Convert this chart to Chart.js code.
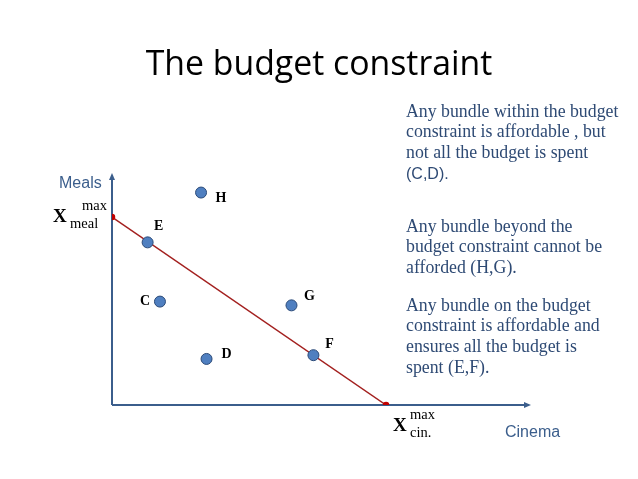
<!DOCTYPE html>
<html>
<head>
<meta charset="utf-8">
<script src="https://cdn.jsdelivr.net/npm/chart.js@4"></script>
<style>
html,body{margin:0;padding:0;background:#fff;}
#wrap{width:638px;height:479px;}
</style>
</head>
<body>
<div id="wrap"><canvas id="c" width="638" height="479"></canvas></div>
<script>
const bundleLabels = ['H','E','C','G','D','F'];
const cinemaValues = [3.25, 1.3, 1.75, 6.55, 3.45, 7.35];
const mealValues   = [11.3, 8.65, 5.5, 5.3, 2.45, 2.65];
const budgetCinema = [0, 10];
const budgetMeals  = [10, 0];
const axisMax = {x: 15.29, y: 12.34};

const titleText = 'The budget constraint';
const noteBlocks = [
  ['Any bundle within the budget','constraint is affordable , but','not all the budget is spent','(C,D).'],
  ['Any bundle beyond the','budget constraint cannot be','afforded (H,G).'],
  ['Any bundle on the budget','constraint is affordable and','ensures all the budget is','spent (E,F).']
];

const labelOffsets = {H:[20,6],E:[11,-16],C:[-15,0],G:[18,-9],D:[20,-5],F:[16,-11]};

const decor = {
  id:'decor',
  beforeDatasetsDraw(chart){
    const ctx = chart.ctx, xs = chart.scales.x, ys = chart.scales.y;
    const x0 = xs.getPixelForValue(0), y0 = ys.getPixelForValue(0);
    const x1 = xs.getPixelForValue(axisMax.x), y1 = ys.getPixelForValue(axisMax.y);
    ctx.save();
    ctx.strokeStyle = '#3b5e8c'; ctx.fillStyle = '#3b5e8c'; ctx.lineWidth = 2;
    ctx.beginPath(); ctx.moveTo(x0, y0); ctx.lineTo(x1-4, y0); ctx.stroke();
    ctx.beginPath(); ctx.moveTo(x0, y0); ctx.lineTo(x0, y1+4); ctx.stroke();
    ctx.beginPath(); ctx.moveTo(x1, y0); ctx.lineTo(x1-7, y0-3); ctx.lineTo(x1-7, y0+3); ctx.closePath(); ctx.fill();
    ctx.beginPath(); ctx.moveTo(x0, y1); ctx.lineTo(x0-3, y1+7); ctx.lineTo(x0+3, y1+7); ctx.closePath(); ctx.fill();
    ctx.restore();
  },
  afterDraw(chart){
    const ctx = chart.ctx, xs = chart.scales.x, ys = chart.scales.y;
    ctx.save();
    // title
    let fs = 36;
    ctx.font = fs + 'px "Open Sans"';
    const w = ctx.measureText(titleText).width;
    fs = fs * 347 / w;
    ctx.font = fs.toFixed(1) + 'px "Open Sans"';
    ctx.fillStyle = '#000'; ctx.textAlign = 'center'; ctx.textBaseline = 'alphabetic';
    ctx.fillText(titleText, 319, 75);
    // notes
    ctx.textAlign = 'left'; ctx.textBaseline = 'middle'; ctx.fillStyle = '#2e4a74';
    ctx.font = '20px "Liberation Serif"';
    const nfs = 20 * 212 / ctx.measureText(noteBlocks[0][0]).width;
    const starts = [112, 227, 306];
    noteBlocks.forEach((blk, bi) => {
      blk.forEach((ln, li) => {
        ctx.font = (ln.startsWith('(C') ? (nfs*0.9).toFixed(1) + 'px "Liberation Sans"' : nfs.toFixed(1) + 'px "Liberation Serif"');
        ctx.fillText(ln, 406, starts[bi] + li * 20.8);
      });
    });
    // axis titles
    ctx.fillStyle = '#3b5e8c'; ctx.font = '16px "Liberation Sans"';
    ctx.fillText('Meals', 59, 184);
    ctx.fillText('Cinema', 505, 433);
    // bundle labels
    ctx.fillStyle = '#000'; ctx.font = 'bold 14px "Liberation Serif"'; ctx.textAlign = 'center';
    bundleLabels.forEach((l, i) => {
      const px = xs.getPixelForValue(cinemaValues[i]), py = ys.getPixelForValue(mealValues[i]);
      const o = labelOffsets[l];
      ctx.fillText(l, px + o[0], py + o[1]);
    });
    // X max labels
    ctx.textAlign = 'left';
    ctx.font = 'bold 19px "Liberation Serif"'; ctx.fillText('X', 53, 217);
    ctx.font = '14.5px "Liberation Serif"'; ctx.fillText('max', 82, 206); ctx.fillText('meal', 70, 224);
    ctx.font = 'bold 19px "Liberation Serif"'; ctx.fillText('X', 393, 426);
    ctx.font = '14.5px "Liberation Serif"'; ctx.fillText('max', 410, 415); ctx.fillText('cin.', 410, 433);
    ctx.restore();
  }
};

new Chart(document.getElementById('c'), {
  type: 'scatter',
  data: {
    datasets: [
      {
        label: 'Budget constraint',
        data: budgetCinema.map((x, i) => ({x, y: budgetMeals[i]})),
        showLine: true,
        borderColor: '#a3201f',
        borderWidth: 1.5,
        pointRadius: 2.5,
        pointBackgroundColor: '#c00000',
        pointBorderColor: '#c00000',
        order: 2
      },
      {
        label: 'Bundles',
        data: cinemaValues.map((x, i) => ({x, y: mealValues[i]})),
        pointRadius: 5.5,
        pointBackgroundColor: '#4f7fc0',
        pointBorderColor: '#2b4a78',
        pointBorderWidth: 1,
        order: 1
      }
    ]
  },
  options: {
    responsive: false,
    animation: false,
    layout: {padding: {left: 112, right: 107, top: 173, bottom: 74}},
    plugins: {legend: {display: false}, tooltip: {enabled: false}},
    scales: {
      x: {type: 'linear', min: 0, max: axisMax.x, display: false},
      y: {type: 'linear', min: 0, max: axisMax.y, display: false}
    }
  },
  plugins: [decor]
});
</script>
</body>
</html>
